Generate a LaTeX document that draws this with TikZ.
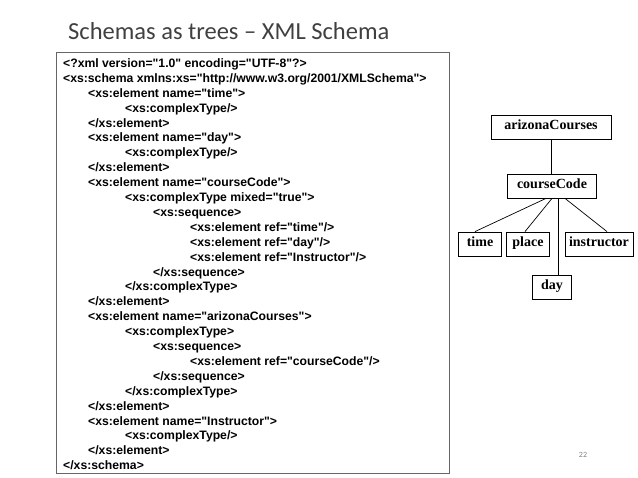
\documentclass[tikz,border=0pt]{standalone}
\usepackage{fontspec}
\newfontfamily\codef{Liberation Sans}
\newfontfamily\tnr{Liberation Serif}
\newfontfamily\carl{Carlito}
\begin{document}
\begin{tikzpicture}[x=1pt,y=-1pt,
  code/.style={anchor=base west,inner sep=0pt,font=\codef\fontsize{12.2}{13}\selectfont\bfseries},
  tn/.style={draw,line width=0.8pt,inner xsep=4pt,minimum height=24pt,text height=9pt,text depth=3pt,font=\tnr\fontsize{14}{15}\selectfont\bfseries},
  edge/.style={line width=0.7pt}]
\useasboundingbox (0,0) rectangle (638,478);
\node[anchor=west,inner sep=0pt,text=black!75,font=\carl\fontsize{24.5}{26}\selectfont] (title) at (68,31) {Schemas as trees – XML Schema};
\node[draw=black!60,line width=0.8pt,minimum width=393pt,minimum height=421pt,anchor=north west,inner sep=0pt] (box) at (56,52) {};
\foreach \i/\x/\t in {
1/63/{<?xml version="1.0" encoding="UTF-8"?>},
2/63/{<xs:schema xmlns:xs="http://www.w3.org/2001/XMLSchema">},
3/88/{<xs:element name="time">},
4/125/{<xs:complexType/>},
5/88/{</xs:element>},
6/88/{<xs:element name="day">},
7/125/{<xs:complexType/>},
8/88/{</xs:element>},
9/88/{<xs:element name="courseCode">},
10/125/{<xs:complexType mixed="true">},
11/153/{<xs:sequence>},
12/190/{<xs:element ref="time"/>},
13/190/{<xs:element ref="day"/>},
14/190/{<xs:element ref="Instructor"/>},
15/153/{</xs:sequence>},
16/125/{</xs:complexType>},
17/88/{</xs:element>},
18/88/{<xs:element name="arizonaCourses">},
19/125/{<xs:complexType>},
20/153/{<xs:sequence>},
21/190/{<xs:element ref="courseCode"/>},
22/153/{</xs:sequence>},
23/125/{</xs:complexType>},
24/88/{</xs:element>},
25/88/{<xs:element name="Instructor">},
26/125/{<xs:complexType/>},
27/88/{</xs:element>},
28/63/{</xs:schema>}}
  \node[code] (l\i) at (\x,{67.5+(\i-1)*14.9}) {\t};
\node[tn,minimum width=120pt] (az) at (551,127) {arizonaCourses};
\node[tn,minimum width=89pt] (cc) at (552,186) {courseCode};
\node[tn,minimum width=43pt] (time) at (480,244) {time};
\node[tn,minimum width=43pt] (place) at (528,244) {place};
\node[tn,minimum width=66pt] (ins) at (599,244) {instructor};
\node[tn,minimum width=39pt] (day) at (552,287) {day};
\draw[edge] (az.south) -- (cc.north -| az.south);
\draw[edge] ([xshift=-6pt]cc.south) -- ([xshift=-5pt]time.north);
\draw[edge] (cc.south) -- ([xshift=-3pt]place.north);
\draw[edge] ([xshift=6pt]cc.south) -- ([xshift=6pt]day.north);
\draw[edge] ([xshift=13pt]cc.south) -- ([xshift=8pt]ins.north);
\node[text=black!50,font=\carl\fontsize{8}{9}\selectfont] (pg) at (583,455) {22};
\end{tikzpicture}
\end{document}
